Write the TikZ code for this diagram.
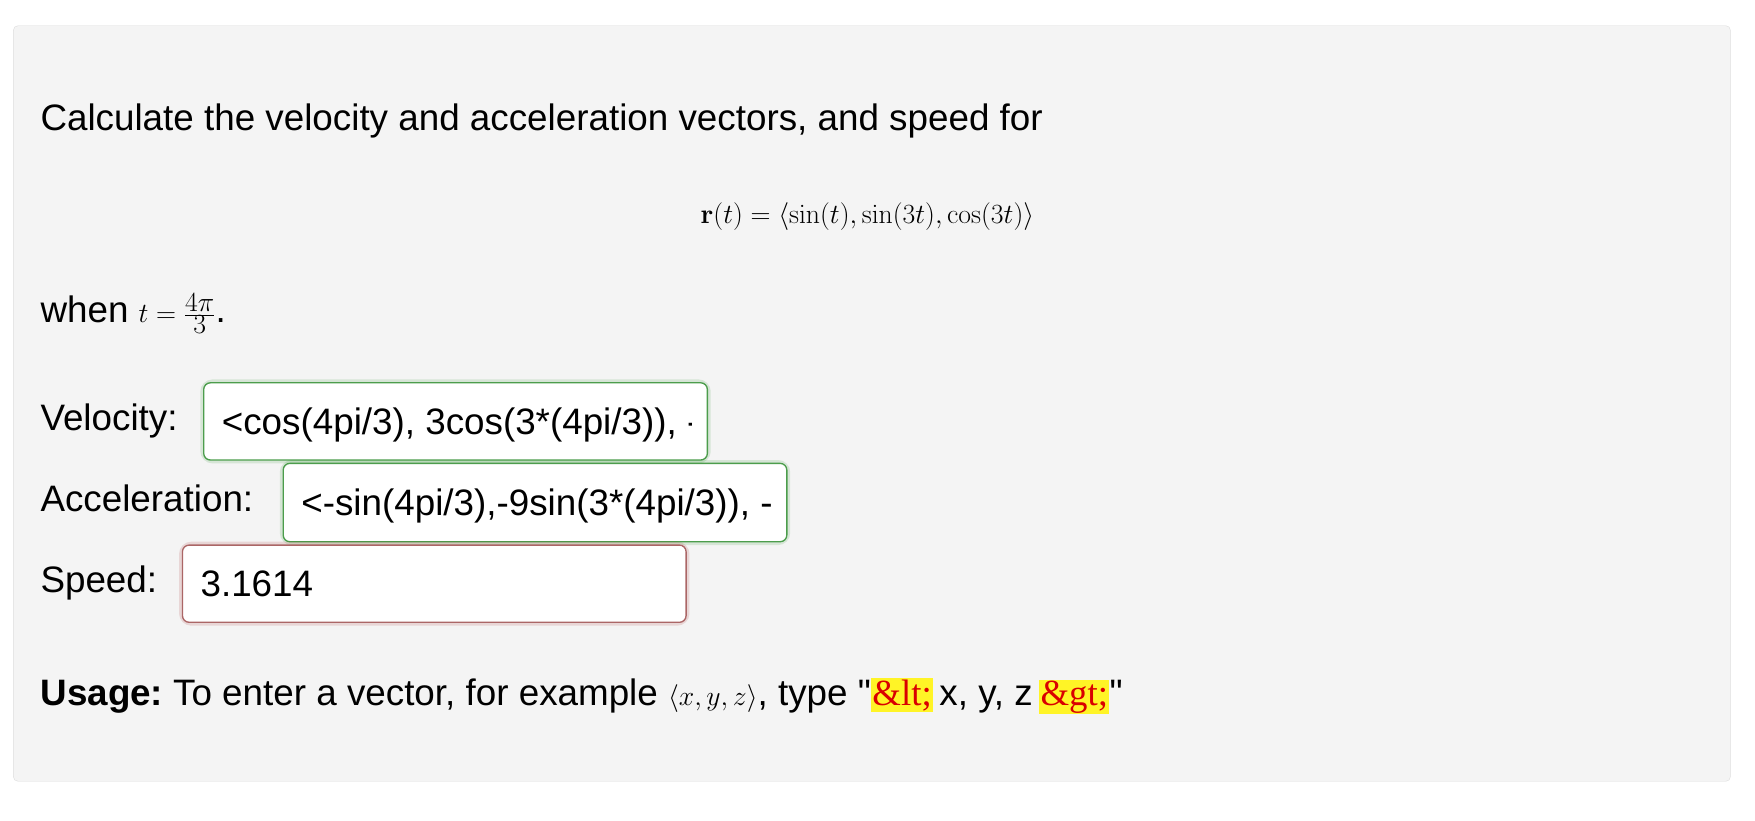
\documentclass[tikz,border=0pt]{standalone}
\usepackage[no-math]{fontspec}
\setmainfont{Liberation Sans}
\newfontfamily\timesf{Liberation Serif}
\begin{document}
\begin{tikzpicture}[x=1bp,y=-1bp,
  txt/.style={anchor=base west,inner sep=0pt,font=\fontsize{33}{40}\selectfont},
  inbox/.style={draw=#1,fill=white,rounded corners=6bp,line width=1.2bp},
  glow/.style={draw=#1,rounded corners=8bp,line width=6bp,opacity=0.12},
  hl/.style={fill=yellow!85!white,text=red!85!black,inner sep=1bp,anchor=base west,font=\timesf\fontsize{33}{40}\selectfont}]
\useasboundingbox (0,0) rectangle (1568,733);
\fill[white] (0,0) rectangle (1568,733);
\draw[draw=black!13,fill=black!4.5,rounded corners=4bp] (12,23) rectangle (1546,698);
\node[txt] (l1) at (36,117) {Calculate the velocity and acceleration vectors, and speed for};
\node[anchor=base,inner sep=0pt,font=\fontsize{35}{42}\selectfont] (eq) at (775,200)
  {$\mathbf{r}(t) = \langle \sin(t), \sin(3t), \cos(3t)\rangle$};
\node[txt] (when) at (36,288) {when {\fontsize{35}{42}\selectfont$t = \frac{4\pi}{3}$}.};
% velocity
\node[txt] (vl) at (36,385) {Velocity:};
\draw[glow=green!50!black] (182,342) rectangle (632,411);
\draw[inbox=green!45!black!70] (182,342) rectangle (632,411);
\begin{scope}
\clip (190,342) rectangle (618,411);
\node[txt] (vt) at (198,388) {<cos(4pi/3), 3cos(3*(4pi/3)), -3sin(3*(4pi/3))>};
\end{scope}
% acceleration
\node[txt] (al) at (36,457) {Acceleration:};
\draw[glow=green!50!black] (253,414) rectangle (703,484);
\draw[inbox=green!45!black!70] (253,414) rectangle (703,484);
\begin{scope}
\clip (260,414) rectangle (690,484);
\node[txt] (at) at (269,461) {<-sin(4pi/3),-9sin(3*(4pi/3)), -9cos(3*(4pi/3))>};
\end{scope}
% speed
\node[txt] (sl) at (36,529) {Speed:};
\draw[glow=red!60!black] (163,487) rectangle (613,556);
\draw[inbox=red!45!black!60] (163,487) rectangle (613,556);
\node[txt] (st) at (179,533) {3.1614};
% usage
\node[txt] (u1) at (36,630) {\textbf{Usage:}\hspace{-0.1em} To enter a vector, for example {\fontsize{35}{42}\selectfont$\langle x,y,z\rangle$}, type \textquotedbl};
\node[hl] (lt) at (u1.base east) {\&lt;};
\node[txt] (u2) at (lt.base east) {\,x, y, z\,};
\node[hl] (gt) at (u2.base east) {\&gt;};
\node[txt] (u3) at (gt.base east) {\textquotedbl};
\end{tikzpicture}
\end{document}
